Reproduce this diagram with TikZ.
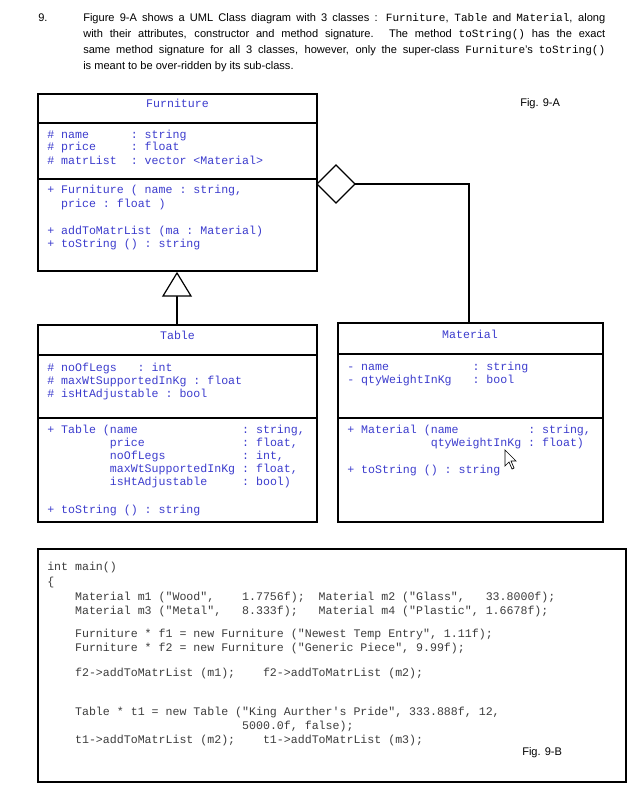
\documentclass[tikz,border=0pt]{standalone}
\usepackage{fontspec}
\setmainfont{Liberation Sans}
\setsansfont{Liberation Sans}
\setmonofont{Liberation Mono}
\definecolor{umlblue}{RGB}{60,60,205}
\definecolor{codegray}{RGB}{60,60,60}
\begin{document}
\begin{tikzpicture}[x=0.75pt,y=-0.75pt,
  box/.style={draw=black,line width=0.9pt},
  ml/.style={anchor=base west,inner sep=0pt,font=\fontsize{8.7}{10}\ttfamily,text=umlblue},
  mc/.style={anchor=base,inner sep=0pt,font=\fontsize{8.7}{10}\ttfamily,text=umlblue},
  cl/.style={anchor=base west,inner sep=0pt,font=\fontsize{8.7}{10}\ttfamily,text=codegray},
  lab/.style={anchor=base west,inner sep=0pt,font=\fontsize{8.3}{10}\sffamily}]
\useasboundingbox (0,0) rectangle (640,795);
% header
\node[lab] (num) at (38,22) {9.};
\node[anchor=north west,inner sep=0pt,text width=391.5pt,align=justify,font=\fontsize{8.3}{12}\sffamily] (para) at (83,13)
{Figure 9-A shows a UML Class diagram with 3 classes : \texttt{Furniture}, \texttt{Table} and \texttt{Material}, along\linebreak
with their attributes, constructor and method signature. The method \texttt{toString()} has the exact\linebreak
same method signature for all 3 classes, however, only the super-class \texttt{Furniture}'s \texttt{toString()}\linebreak
is meant to be over-ridden by its sub-class.\par};
\node[lab] (figA) at (520,107) {Fig. 9-A};
% Furniture
\draw[box] (38,94) rectangle (317,271);
\draw[box] (38,123) -- (317,123) (38,179) -- (317,179);
\node[mc] (fT) at (177.5,108) {Furniture};
\node[ml] (f1) at (47,138) {\#~name~~~~~~:~string};
\node[ml] (f2) at (47,151) {\#~price~~~~~:~float};
\node[ml] (f3) at (47,164) {\#~matrList~~:~vector~<Material>};
\node[ml] (f4) at (47,193) {+~Furniture~(~name~:~string,};
\node[ml] (f5) at (47,207) {~~price~:~float~)};
\node[ml] (f6) at (47,234) {+~addToMatrList~(ma~:~Material)};
\node[ml] (f7) at (47,247) {+~toString~()~:~string};
% Table
\draw[box] (38,325) rectangle (317,522);
\draw[box] (38,355) -- (317,355) (38,418) -- (317,418);
\node[mc] (tT) at (177.5,339) {Table};
\node[ml] (t1) at (47,371) {\#~noOfLegs~~~:~int};
\node[ml] (t2) at (47,384) {\#~maxWtSupportedInKg~:~float};
\node[ml] (t3) at (47,397) {\#~isHtAdjustable~:~bool};
\node[ml] (t4) at (47,433) {+~Table~(name~~~~~~~~~~~~~~~:~string,};
\node[ml] (t5) at (47,446) {~~~~~~~~~price~~~~~~~~~~~~~~:~float,};
\node[ml] (t6) at (47,459) {~~~~~~~~~noOfLegs~~~~~~~~~~~:~int,};
\node[ml] (t7) at (47,472) {~~~~~~~~~maxWtSupportedInKg~:~float,};
\node[ml] (t8) at (47,485) {~~~~~~~~~isHtAdjustable~~~~~:~bool)};
\node[ml] (t9) at (47,513) {+~toString~()~:~string};
% Material
\draw[box] (338,323) rectangle (603,522);
\draw[box] (338,354) -- (603,354) (338,418) -- (603,418);
\node[mc] (mT) at (470,338) {Material};
\node[ml] (m1) at (347,370) {-~name~~~~~~~~~~~~:~string};
\node[ml] (m2) at (347,383) {-~qtyWeightInKg~~~:~bool};
\node[ml] (m3) at (347,433) {+~Material~(name~~~~~~~~~~:~string,};
\node[ml] (m4) at (347,446) {~~~~~~~~~~~~qtyWeightInKg~:~float)};
\node[ml] (m5) at (347,473) {+~toString~()~:~string};
% cursor
\draw[fill=white,line width=0.5pt] (505,450) -- (505,466) -- (509,462) -- (512,469) -- (514,468) -- (511,461) -- (516,461) -- cycle;
% inheritance
\coordinate (tri) at (177,296);
\draw[line width=0.9pt] (177,325) -- (tri);
\draw[line width=0.9pt,fill=white] (163,296) -- (177,273) -- (191,296) -- cycle;
% aggregation
\draw[line width=0.9pt,fill=white] (317,184) -- (336,165) -- (355,184) -- (336,203) -- cycle;
\coordinate (dr) at (355,184);
\coordinate (mtop) at (469,323);
\draw[line width=0.9pt] (dr) -| (mtop);
% code
\draw[box] (38,549) rectangle (626,782);
\node[cl] (c1) at (47,570) {int~main()};
\node[cl] (c2) at (47,585) {\{};
\node[cl] (c3) at (47,600) {~~~~Material~m1~("Wood",~~~~1.7756f);~~Material~m2~("Glass",~~~33.8000f);};
\node[cl] (c4) at (47,614) {~~~~Material~m3~("Metal",~~~8.333f);~~~Material~m4~("Plastic",~1.6678f);};
\node[cl] (c5) at (47,637) {~~~~Furniture~*~f1~=~new~Furniture~("Newest~Temp~Entry",~1.11f);};
\node[cl] (c6) at (47,651) {~~~~Furniture~*~f2~=~new~Furniture~("Generic~Piece",~9.99f);};
\node[cl] (c7) at (47,676) {~~~~f2->addToMatrList~(m1);~~~~f2->addToMatrList~(m2);};
\node[cl] (c8) at (47,715) {~~~~Table~*~t1~=~new~Table~("King~Aurther's~Pride",~333.888f,~12,};
\node[cl] (c9) at (47,729) {~~~~~~~~~~~~~~~~~~~~~~~~~~~~5000.0f,~false);};
\node[cl] (c10) at (47,743) {~~~~t1->addToMatrList~(m2);~~~~t1->addToMatrList~(m3);};
\node[lab] (figB) at (522,755) {Fig. 9-B};
\end{tikzpicture}
\end{document}
